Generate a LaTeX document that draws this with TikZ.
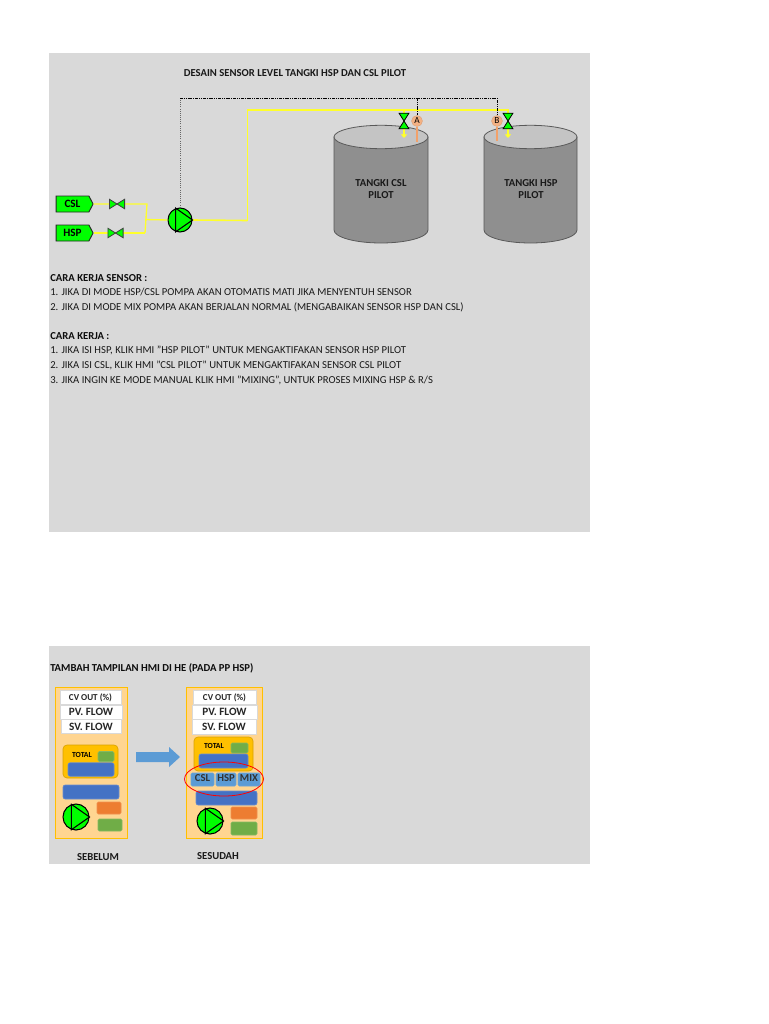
\documentclass[tikz,border=0pt]{standalone}
\usepackage{fontspec}
\setmainfont{Carlito}
\usetikzlibrary{shapes.geometric,shapes.symbols,arrows.meta}
\definecolor{panelgray}{HTML}{D9D9D9}
\definecolor{pipeyellow}{HTML}{FFFF2B}
\definecolor{hmiblue}{HTML}{4472C4}
\definecolor{btnblue}{HTML}{5B9BD5}
\definecolor{hmigold}{HTML}{FFC000}
\definecolor{hmisand}{HTML}{FFD591}
\definecolor{hmiorange}{HTML}{ED7D31}
\definecolor{hmigreen}{HTML}{70AD47}
\definecolor{salmon}{HTML}{F4B183}
\newcommand{\qt}{\symbol{34}}
\tikzset{
  wd/.style={minimum width=#1*0.75pt},
  ht/.style={minimum height=#1*0.75pt},
  body/.style={font=\fontsize{8pt}{9pt}\selectfont\color{black!90},anchor=west,inner sep=0pt},
  head/.style={body,font=\fontsize{8pt}{9pt}\selectfont\bfseries\color{black!95}},
  label/.style={font=\fontsize{8pt}{9pt}\selectfont\bfseries\color{black!90},inner sep=0pt,align=center},
  tag/.style={draw=black!85,fill=green,line width=0.7pt,signal,signal to=east,signal pointer angle=125,
    inner sep=0pt,wd=37,ht=16,font=\fontsize{8.4pt}{9pt}\selectfont\bfseries},
  valvebox/.style={inner sep=0pt,minimum width=#1},
  pumpbox/.style={circle,draw=black,fill=green,line width=0.8pt,inner sep=0pt,minimum size=#1*1.5pt},
  sensor/.style={circle,fill=salmon,draw=salmon!90!black,line width=0.3pt,inner sep=0pt,minimum size=8.2pt,font=\fontsize{7pt}{8pt}\selectfont},
  pipe/.style={draw=pipeyellow,line width=1pt},
  signalline/.style={draw=black,line width=0.6pt,dash pattern=on 2.2pt off 0.7pt on 0.7pt off 0.7pt on 0.7pt off 0.7pt},
  probe/.style={draw=salmon!70!hmiorange,line width=0.9pt},
  whitebox/.style={draw=black!15,fill=white,line width=0.4pt,inner sep=0pt,font=\fontsize{#1}{9pt}\selectfont\bfseries\color{black!85}},
  hmi/.style={draw=hmigold,fill=hmisand,line width=0.6pt},
  totalbox/.style={draw=hmigold!85!black,fill=hmigold,rounded corners=3pt,line width=0.5pt},
  bluebar/.style={draw=hmiblue!80!white,fill=hmiblue,rounded corners=1.5pt,line width=0.4pt},
  greenbtn/.style={draw=hmigreen!85!white,fill=hmigreen,rounded corners=1pt,line width=0.4pt},
  orangebtn/.style={draw=hmiorange!85!white,fill=hmiorange,rounded corners=1pt,line width=0.4pt},
  modebtn/.style={draw=btnblue!90!white,fill=btnblue,rounded corners=1pt,line width=0.4pt,inner sep=0pt},
  modetext/.style={label,font=\fontsize{8pt}{9pt}\selectfont\bfseries\color{black!80}},
  smalltext/.style={label,font=\fontsize{5.8pt}{7pt}\selectfont\bfseries},
  tankbody/.style={draw=black!65,fill=black!44,line width=0.6pt},
  tanktop/.style={draw=black!65,fill=black!23,line width=0.6pt},
}
\begin{document}
\begin{tikzpicture}[x=0.75pt,y=-0.75pt]
\useasboundingbox (0,0) rectangle (768,1024);
% panels
\fill[panelgray] (49,53) rectangle (590,532);
\fill[panelgray] (49,646) rectangle (590,864);
\node[label] (title) at (295,73.5) {DESAIN SENSOR LEVEL TANGKI HSP DAN CSL PILOT};

% tanks
\path[tankbody] (334,137) -- (334,230) arc[start angle=180,end angle=0,x radius=47,y radius=13] -- (428,137) -- cycle;
\path[tanktop] (381,137) ellipse[x radius=47,y radius=11.7];
\path[tankbody] (484,137) -- (484,230) arc[start angle=180,end angle=0,x radius=46.5,y radius=13] -- (577,137) -- cycle;
\path[tanktop] (530.5,137) ellipse[x radius=46.5,y radius=11.7];
\node[label] (tankcsl) at (381,189.5) {TANGKI CSL\\PILOT};
\node[label] (tankhsp) at (531,189.5) {TANGKI HSP\\PILOT};

% nodes of the line
\node[tag] (csl) at (72.5,204) {CSL};
\node[tag] (hsp) at (72.5,233) {HSP};
\node[valvebox=11pt,ht=9] (vcsl) at (117,204) {};
\node[valvebox=11pt,ht=9] (vhsp) at (115.5,233) {};
\node[pumpbox=12] (pump) at (180,220) {};
\node[valvebox=7pt,ht=15] (vtanka) at (404,121) {};
\node[valvebox=7pt,ht=15] (vtankb) at (508,121) {};
\node[sensor] (sensa) at (417,121) {A};
\node[sensor] (sensb) at (497,121) {B};
\coordinate (cslend) at (147,204);
\coordinate (hspend) at (145,233);
\coordinate (joint) at (145,219.5);
\coordinate (riser) at (247.5,220.5);
\coordinate (riserup) at (247.5,110);
\coordinate (tee) at (404,110);
\coordinate (teeb) at (508,110);
\coordinate (dropa) at (404,138);
\coordinate (dropb) at (508,138);
\coordinate (sigup) at (180,98);
\coordinate (siga) at (417,98);
\coordinate (sigb) at (497,98);
\coordinate (proba) at (417,142);
\coordinate (probb) at (497,141);

% pipes
\draw[pipe] (csl.east) -- (cslend) -- (hspend);
\draw[pipe,line width=0.8pt] (hsp.east) -- (hspend);
\draw[pipe] (joint) -- (pump.west);
\draw[pipe,line width=1.2pt] (pump.east) -- (riser);
\draw[pipe] (riser) -- (riserup) -- (teeb) -- (vtankb.north);
\draw[pipe] (tee) -- (vtanka.north);
\draw[pipe,-{Straight Barb[length=2pt,width=3.5pt]}] (vtanka.south) -- (dropa);
\draw[pipe,-{Straight Barb[length=2pt,width=3.5pt]}] (vtankb.south) -- (dropb);

% sensor lines
\draw[draw=black!60,line width=0.6pt,densely dotted] (pump.north) -- (sigup);
\draw[signalline] (sigup) -- (sigb) -- (sensb.north);
\draw[signalline] (siga) -- (sensa.north);
\draw[probe] (sensa.south) -- (proba);
\draw[probe] (sensb.south) -- (probb);

% valves
\draw[fill=green,draw=black!75,line width=0.6pt] (vcsl.north west) -- (vcsl.south east) -- (vcsl.north east) -- (vcsl.south west) -- cycle;
\draw[fill=green,draw=black!75,line width=0.6pt] (vhsp.north west) -- (vhsp.south east) -- (vhsp.north east) -- (vhsp.south west) -- cycle;
\draw[fill=green,draw=black,line width=0.6pt] (vtanka.north west) -- (vtanka.north east) -- (vtanka.south west) -- (vtanka.south east) -- cycle;
\draw[fill=green,draw=black,line width=0.6pt] (vtankb.north west) -- (vtankb.north east) -- (vtankb.south west) -- (vtankb.south east) -- cycle;
\draw[line width=0.8pt] (pump.110) -- (pump.0) -- (pump.250) -- cycle;

% texts
\node[head] (t1) at (50,278) {CARA KERJA SENSOR :};
\node[body] (t2) at (50,292.5) {1. JIKA DI MODE HSP/CSL POMPA AKAN OTOMATIS MATI JIKA MENYENTUH SENSOR};
\node[body] (t3) at (50,307) {2. JIKA DI MODE MIX POMPA AKAN BERJALAN NORMAL (MENGABAIKAN SENSOR HSP DAN CSL)};
\node[head] (t4) at (50,336) {CARA KERJA :};
\node[body] (t5) at (50,350.5) {1. JIKA ISI HSP, KLIK HMI \qt HSP PILOT\qt{} UNTUK MENGAKTIFAKAN SENSOR HSP PILOT};
\node[body] (t6) at (50,365) {2. JIKA ISI CSL, KLIK HMI \qt CSL PILOT\qt{} UNTUK MENGAKTIFAKAN SENSOR CSL PILOT};
\node[body] (t7) at (50,380) {3. JIKA INGIN KE MODE MANUAL KLIK HMI \qt MIXING\qt, UNTUK PROSES MIXING HSP \& R/S};
\node[head] (t8) at (50,668) {TAMBAH TAMPILAN HMI DI HE (PADA PP HSP)};

% hmi sebelum
\path[hmi] (55,687) rectangle (127,838);
\node[whitebox=6.8pt,wd=61,ht=13.5] (cva) at (90.5,697.5) {CV OUT (\%)};
\node[whitebox=8.4pt,wd=62,ht=14] (pva) at (91,712) {PV. FLOW};
\node[whitebox=8.4pt,wd=60,ht=14.5] (sva) at (91,726.5) {SV. FLOW};
\node[totalbox,wd=55,ht=33] (totala) at (90.5,761.5) {};
\node[smalltext] (txta) at (82,754.5) {TOTAL};
\node[greenbtn,wd=16,ht=10] (gsa) at (106,756.5) {};
\node[bluebar,wd=46,ht=13.5] (bia) at (91,769.5) {};
\node[bluebar,wd=56,ht=14] (baa) at (91,792) {};
\node[pumpbox=13] (pumpa) at (76,817) {};
\draw[line width=0.8pt] (pumpa.110) -- (pumpa.0) -- (pumpa.250) -- cycle;
\node[orangebtn,wd=24,ht=12] (ora) at (109,808) {};
\node[greenbtn,wd=24,ht=12] (gra) at (110,825) {};
\node[label] (sebelum) at (98,857) {SEBELUM};

% arrow
\fill[btnblue] (136,752) -- (169,752) -- (169,747) -- (180,757) -- (169,767) -- (169,762) -- (136,762) -- cycle;

% hmi sesudah
\path[hmi] (186,687) rectangle (262,838);
\node[whitebox=6.8pt,wd=63,ht=13.5] (cvb) at (224.5,697.5) {CV OUT (\%)};
\node[whitebox=8.4pt,wd=65,ht=14] (pvb) at (224.5,712) {PV. FLOW};
\node[whitebox=8.4pt,wd=64,ht=15] (svb) at (224,727) {SV. FLOW};
\node[totalbox,wd=59,ht=34] (totalb) at (223.5,754) {};
\node[smalltext] (txtb) at (214,746) {TOTAL};
\node[greenbtn,wd=17,ht=10] (gsb) at (239.5,748) {};
\node[bluebar,wd=49,ht=14] (bib) at (223.5,761) {};
\node[modebtn,wd=23,ht=13] (bcsl) at (202.5,779.5) {};
\node[modebtn,wd=20,ht=13] (bhsp) at (226,779.5) {};
\node[modebtn,wd=22,ht=13] (bmix) at (249,779.5) {};
\node[modetext] (lcsl) at (202.5,778) {CSL};
\node[modetext] (lhsp) at (226,778) {HSP};
\node[modetext] (lmix) at (249,778) {MIX};
\node[bluebar,wd=61,ht=14] (bab) at (226.5,798) {};
\node[pumpbox=13] (pumpb) at (210,821) {};
\draw[line width=0.8pt] (pumpb.110) -- (pumpb.0) -- (pumpb.250) -- cycle;
\node[orangebtn,wd=26,ht=12] (orb) at (244,813) {};
\node[greenbtn,wd=26,ht=13] (grb) at (244,828.5) {};
\node[draw=red,line width=0.6pt,ellipse,inner sep=0pt,wd=79,ht=34] (ring) at (224,779) {};
\node[label] (sesudah) at (218,856) {SESUDAH};
\end{tikzpicture}
\end{document}
